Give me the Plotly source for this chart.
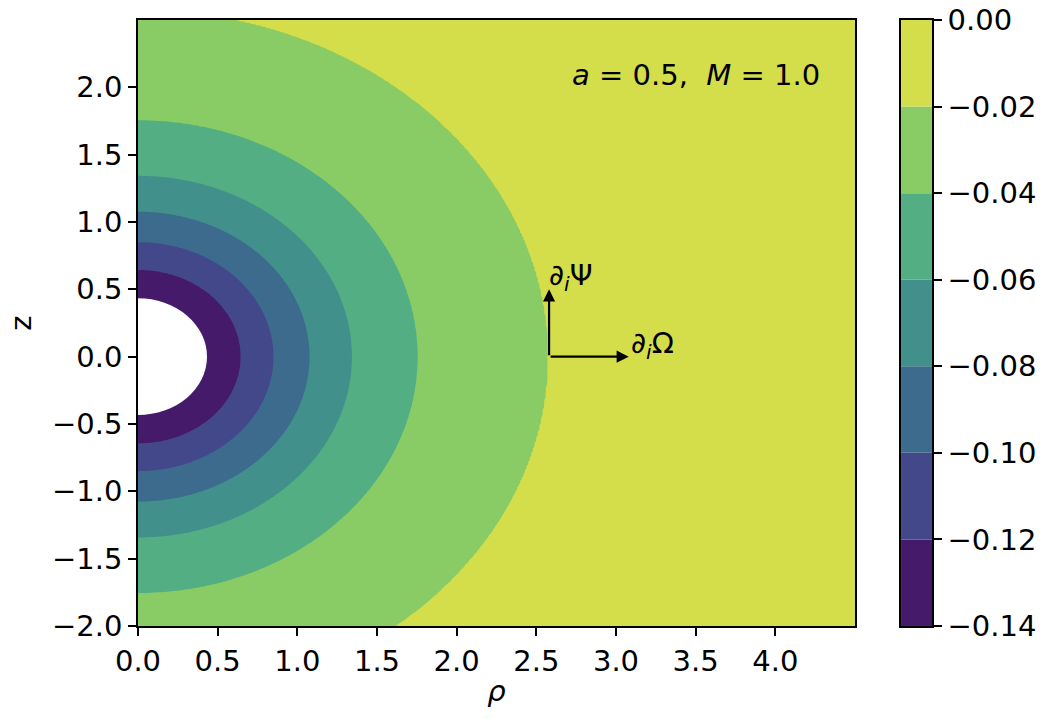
import numpy as np
import plotly.graph_objects as go

# ---- data ----
levels = [-0.14, -0.12, -0.10, -0.08, -0.06, -0.04, -0.02, 0.00]
band_colors = ["#461a6a", "#43488a", "#3c6b8e", "#41908b", "#53ae83", "#89cc66", "#d4de4b"]
# contour boundaries are circles in the (rho, z) plane; radius of each boundary
boundary_radius = [0.433, 0.645, 0.850, 1.076, 1.342, 1.754, 2.57, 6.5]
boundary_value = [-0.13, -0.12, -0.10, -0.08, -0.06, -0.04, -0.02, -0.01]
horizon_radius = 0.433
x_ticks = [0.0, 0.5, 1.0, 1.5, 2.0, 2.5, 3.0, 3.5, 4.0]
y_ticks = [-2.0, -1.5, -1.0, -0.5, 0.0, 0.5, 1.0, 1.5, 2.0]
arrow_origin = [2.58, 0.0]
arrow_length = 0.5

FONT = "DejaVu Sans"
FS = 29

rho = np.linspace(0, 4.5, 451)
zc = np.linspace(-2.0, 2.5, 451)
R, Z = np.meshgrid(rho, zc)
rad = np.sqrt(R**2 + Z**2)
field = np.interp(rad, boundary_radius, boundary_value)

nb = len(band_colors)
step = levels[1] - levels[0]
# stepped colorscale: band j centred at j/(nb-1)
cs = []
for j, c in enumerate(band_colors):
    lo = max(0.0, (j - 0.5) / (nb - 1))
    hi = min(1.0, (j + 0.5) / (nb - 1))
    cs.append([lo, c])
    cs.append([hi, c])

fig = go.Figure()
fig.add_trace(go.Contour(
    x=rho, y=zc, z=field,
    autocontour=False,
    contours=dict(start=levels[1], end=levels[-2], size=step, coloring="fill", showlines=False),
    colorscale=cs, showscale=False, line=dict(width=0),
    hoverinfo="skip",
))

# manual colorbar
fig.add_trace(go.Bar(
    x=[0] * nb, y=[levels[i + 1] - levels[i] for i in range(nb)], base=levels[:-1],
    marker=dict(color=band_colors, line=dict(width=0)), width=1,
    xaxis="x2", yaxis="y2", showlegend=False, hoverinfo="skip",
))

# horizon (white disk)
fig.add_shape(type="circle", xref="x", yref="y",
              x0=-horizon_radius, x1=horizon_radius, y0=-horizon_radius, y1=horizon_radius,
              fillcolor="white", line=dict(width=0), layer="above")

# arrows
ox, oy = arrow_origin
fig.add_annotation(x=ox + arrow_length, y=oy, ax=ox, ay=oy, xref="x", yref="y", axref="x", ayref="y",
                   text="", showarrow=True, arrowhead=2, arrowsize=1.1, arrowwidth=2.2, arrowcolor="black")
fig.add_annotation(x=ox, y=oy + arrow_length, ax=ox, ay=oy, xref="x", yref="y", axref="x", ayref="y",
                   text="", showarrow=True, arrowhead=2, arrowsize=1.1, arrowwidth=2.2, arrowcolor="black")
fig.add_annotation(x=ox + arrow_length, y=oy, xref="x", yref="y", text="∂<sub><i>i</i></sub>Ω",
                   showarrow=False, xanchor="left", yanchor="middle", xshift=0, yshift=12,
                   font=dict(family=FONT, size=FS, color="black"))
fig.add_annotation(x=ox, y=oy + arrow_length, xref="x", yref="y", text="∂<sub><i>i</i></sub>Ψ",
                   showarrow=False, xanchor="left", yanchor="middle", xshift=-2, yshift=12,
                   font=dict(family=FONT, size=FS, color="black"))
fig.add_annotation(x=2.71, y=2.09, xref="x", yref="y", text="<i>a</i> = 0.5,  <i>M</i> = 1.0",
                   showarrow=False, xanchor="left", yanchor="middle", font=dict(family=FONT, size=FS, color="black"))

fig.update_layout(
    width=1050, height=719,
    margin=dict(l=138, r=118, t=20, b=93),
    paper_bgcolor="white", plot_bgcolor="white",
    font=dict(family=FONT, size=FS, color="black"),
    showlegend=False,
    xaxis=dict(domain=[0, 0.903], range=[0, 4.5], tickvals=x_ticks, tickformat=".1f",
               showline=True, linecolor="black", linewidth=1.5, mirror=True,
               ticks="outside", ticklen=8, tickwidth=1.5, tickcolor="black",
               showgrid=False, zeroline=False, automargin=False,
               title=dict(text="<i>ρ</i>", standoff=4, font=dict(size=FS))),
    yaxis=dict(domain=[0, 1], range=[-2.0, 2.5], tickvals=y_ticks, tickformat=".1f",
               showline=True, linecolor="black", linewidth=1.5, mirror=True,
               ticks="outside", ticklen=8, tickwidth=1.5, tickcolor="black",
               showgrid=False, zeroline=False, automargin=False,
               title=dict(text="z", standoff=12, font=dict(size=FS))),
    xaxis2=dict(domain=[0.961, 1.0], anchor="y2", range=[-0.5, 0.5], showticklabels=False,
                showline=True, linecolor="black", linewidth=1.5, mirror=True,
                showgrid=False, zeroline=False, ticks="", automargin=False),
    yaxis2=dict(domain=[0, 1], anchor="x2", side="right", range=[levels[0], levels[-1]],
                tickvals=levels, tickformat=".2f",
                showline=True, linecolor="black", linewidth=1.5, mirror=True,
                ticks="outside", ticklen=8, tickwidth=1.5, tickcolor="black",
                showgrid=False, zeroline=False, automargin=False),
)

fig.write_html("out.html")
